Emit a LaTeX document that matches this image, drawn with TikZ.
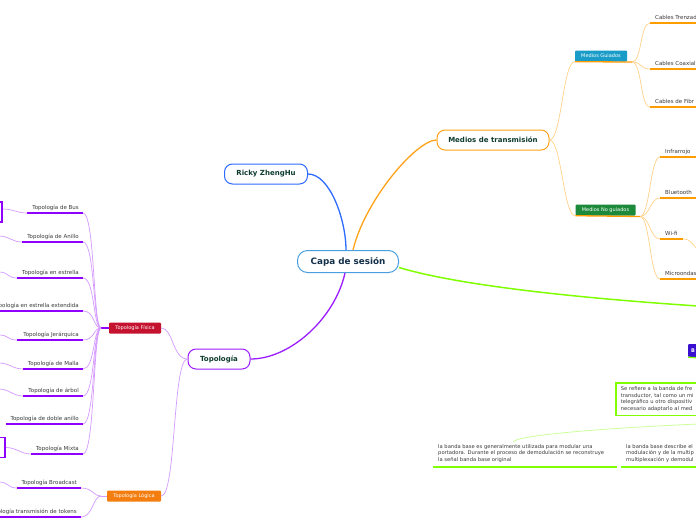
\documentclass[tikz,border=0pt]{standalone}
\usepackage{fontspec}
\setmainfont{DejaVu Sans}
\definecolor{cblue}{HTML}{2E6BFF}
\definecolor{clblue}{HTML}{4A9FE0}
\definecolor{corange}{HTML}{FFA31A}
\definecolor{clorange}{HTML}{FFD28A}
\definecolor{culorange}{HTML}{FF9C00}
\definecolor{cpurple}{HTML}{9B1CFF}
\definecolor{clpurple}{HTML}{D59AFF}
\definecolor{culpurple}{HTML}{8F00FF}
\definecolor{cgreen}{HTML}{80FF00}
\definecolor{clgreen}{HTML}{CCFF99}
\definecolor{ctext}{HTML}{0E3B2E}
\definecolor{cnavy}{HTML}{14304A}
\definecolor{cgray}{HTML}{3A3A3A}
\definecolor{cfis}{HTML}{C4122F}
\definecolor{clog}{HTML}{F47D0F}
\definecolor{cgui}{HTML}{1A9CC8}
\definecolor{cnog}{HTML}{1C8A3A}
\definecolor{cbb}{HTML}{3A10D0}
\tikzset{
  mainbox/.style={draw, rounded corners=8pt, line width=1pt, fill=white, text=ctext,
    font=\bfseries\fontsize{7}{8}\selectfont, minimum height=20pt, inner sep=0pt},
  tagbox/.style={rounded corners=1pt, text=white, font=\fontsize{5}{6}\selectfont,
    minimum height=11pt, inner sep=0pt},
  leaf/.style={text=cgray, font=\fontsize{5.5}{6.6}\selectfont, inner sep=0pt},
  para/.style={text=cgray, font=\fontsize{5.2}{6.6}\selectfont, inner sep=0pt, align=left},
  mainconn/.style={line width=1.3pt},
  subpurple/.style={draw=clpurple, line width=0.7pt},
  suborange/.style={draw=clorange, line width=0.7pt},
  subgreen/.style={draw=clgreen, line width=0.8pt},
  ulpurple/.style={draw=culpurple, line width=1.3pt},
  ulorange/.style={draw=culorange, line width=1.3pt},
  ulgreen/.style={draw=cgreen, line width=1.3pt},
  edgebox/.style={draw=culpurple, line width=1.6pt, minimum width=20pt, minimum height=20pt,
    anchor=east, inner sep=0pt},
}
\newcommand{\lleaf}[5]{%
  \coordinate (#1L) at (#4,#3);
  \coordinate (#1R) at (83,#3);
  \node[leaf, anchor=base east] (#1) at (79,#3-3.5) {#2};
  \draw[ulpurple] (#1L) -- (#1R);
  \draw[subpurple] (#1R) .. controls +(12,0) and +(-8,0) .. (#5);
}
\newcommand{\oleaf}[5]{%
  \coordinate (#1L) at (#4,#3);
  \coordinate (#1R) at (700,#3);
  \node[leaf, anchor=base west] (#1) at (#4+5,#3-3.5) {#2};
  \draw[ulorange] (#1L) -- (#1R);
  \draw[suborange] (#5) .. controls +(10,0) and +(-10,0) .. (#1L);
}
\begin{document}
\begin{tikzpicture}[x=1pt,y=-1pt]
\clip (0,0) rectangle (696,520);
\fill[white] (0,0) rectangle (696,520);

% main nodes
\node[mainbox, draw=clblue, minimum width=101pt, minimum height=22pt, rounded corners=10pt,
  font=\bfseries\fontsize{8.8}{10}\selectfont, text=cnavy] (capa) at (348,261.5) {Capa de sesión};
\node[mainbox, draw=cblue, minimum width=83pt] (ricky) at (266,174) {Ricky ZhengHu};
\node[mainbox, draw=corange, minimum width=112pt] (medios) at (493,140) {Medios de transmisión};
\node[mainbox, draw=cpurple, minimum width=62pt] (topo) at (219,359) {Topología};

% main connectors
\coordinate (gEnd) at (698,306);
\draw[mainconn, cblue] (ricky.east) .. controls +(22,0) and +(0,-30) .. ([xshift=-2pt]capa.north);
\draw[mainconn, corange] ([xshift=5pt]capa.north) .. controls +(12,-50) and +(-20,0) .. (medios.west);
\draw[mainconn, cpurple] ([xshift=-3pt]capa.south) .. controls +(-10,45) and +(40,0) .. (topo.east);
\draw[mainconn, cgreen, line width=1.5pt] ([yshift=-6pt]capa.east) .. controls +(60,18) and +(-120,-8) .. (gEnd);

% medios de transmision branch
\node[tagbox, fill=cgui, minimum width=52pt] (gui) at (601,56) {Medios Guiados};
\node[tagbox, fill=cnog, minimum width=60pt] (nog) at (605.5,210) {Medios No guiados};
\coordinate (guiR) at (632,62);
\coordinate (nogR) at (640,216.5);
\draw[ulorange] (gui.south west) -- (guiR);
\draw[ulorange] (nog.south west) -- (nogR);
\draw[suborange] (medios.east) .. controls +(12,0) and +(-12,0) .. (gui.south west);
\draw[suborange] (medios.east) .. controls +(12,0) and +(-12,0) .. (nog.south west);

\oleaf{tre}{Cables Trenzad}{23}{650}{guiR}
\oleaf{coa}{Cables Coaxial}{69}{650}{guiR}
\oleaf{fib}{Cables de Fibr}{107}{650}{guiR}

\oleaf{inf}{Infrarrojo}{157}{660}{nogR}
\oleaf{blu}{Bluetooth}{198}{660}{nogR}
\oleaf{mic}{Microondas}{279}{660}{nogR}
\coordinate (wifiL) at (660,239);
\coordinate (wifiR) at (683,239);
\coordinate (wifiE) at (698,250);
\node[leaf, anchor=base west] (wifi) at (665,235.5) {Wi-fi};
\draw[ulorange] (wifiL) -- (wifiR);
\draw[suborange] (nogR) .. controls +(10,0) and +(-10,0) .. (wifiL);
\draw[suborange] (wifiR) .. controls +(8,0) and +(-6,-6) .. (wifiE);

% topologia branch
\node[tagbox, fill=cfis, minimum width=52pt] (fis) at (135,328) {Topología Física};
\node[tagbox, fill=clog, minimum width=54pt] (log) at (134,496) {Topología Lógica};
\coordinate (fisJ) at (101,328);
\coordinate (logJ) at (101,496);
\draw[culpurple, line width=1.3pt] (fisJ) -- (fis.west);
\draw[clpurple, line width=0.7pt] (logJ) -- (log.west);
\draw[subpurple] (topo.west) .. controls +(-15,0) and +(12,0) .. (fis.east);
\draw[subpurple] (topo.west) .. controls +(-15,0) and +(15,0) .. (log.east);

\lleaf{bus}{Topología de Bus}{213}{27}{fisJ}
\lleaf{ani}{Topología de Anillo}{242}{22}{fisJ}
\lleaf{est}{Topología en estrella}{278}{17}{fisJ}
\lleaf{ext}{Topología en estrella extendida}{311}{-2}{fisJ}
\lleaf{jer}{Topología Jerárquica}{340}{17}{fisJ}
\lleaf{mal}{Topología de Malla}{369}{23}{fisJ}
\lleaf{arb}{Topología de árbol}{396}{23}{fisJ}
\lleaf{dob}{Topología de doble anillo}{424}{6}{fisJ}
\lleaf{mix}{Topología Mixta}{454}{31}{fisJ}

\coordinate (broL) at (17,488);
\coordinate (broR) at (81,488);
\node[leaf, anchor=base east] (bro) at (77,484.5) {Topología Broadcast};
\draw[ulpurple] (broL) -- (broR);
\draw[subpurple] (broR) .. controls +(12,0) and +(-8,0) .. (logJ);
\coordinate (tokL) at (-2,517);
\coordinate (tokR) at (81,517);
\node[leaf, anchor=base east] (tok) at (77,513.5) {Topología transmisión de tokens};
\draw[ulpurple] (tokL) -- (tokR);
\draw[subpurple] (tokR) .. controls +(12,0) and +(-8,0) .. (logJ);

% left edge boxes and connectors
\node[edgebox] (busbox) at (3,212) {};
\node[edgebox] (mixbox) at (6,447.5) {};
\draw[subpurple] (busL) .. controls +(-10,0) and +(10,0) .. ([yshift=3pt]busbox.east);
\draw[subpurple] (mixL) .. controls +(-10,0) and +(10,0) .. (mixbox.east);
\coordinate (aniE) at (-1,236);
\coordinate (estE) at (-1,272);
\coordinate (jerE) at (-1,335);
\coordinate (malE) at (-1,363);
\coordinate (arbE) at (-1,389);
\coordinate (broE) at (-1,482);
\draw[subpurple] (aniL) .. controls +(-10,0) and +(10,0) .. (aniE);
\draw[subpurple] (estL) .. controls +(-10,0) and +(10,0) .. (estE);
\draw[subpurple] (jerL) .. controls +(-10,0) and +(10,0) .. (jerE);
\draw[subpurple] (malL) .. controls +(-10,0) and +(10,0) .. (malE);
\draw[subpurple] (arbL) .. controls +(-10,0) and +(10,0) .. (arbE);
\draw[subpurple] (broL) .. controls +(-10,0) and +(10,0) .. (broE);

% green branch (right, partly outside)
\node[fill=cbb, text=white, font=\bfseries\fontsize{5}{6}\selectfont, anchor=west,
  minimum height=13pt, inner xsep=3pt, inner ysep=0pt, rounded corners=1pt] (bb) at (688,350.5) {B};
\coordinate (bbR) at (700,358);
\draw[ulgreen] (bb.south west) -- (bbR);

\node[para, draw=cgreen, line width=1.6pt, anchor=north west, inner xsep=5pt, inner ysep=4pt,
  text width=90pt] (gbox) at (615,382)
  {Se refiere a la banda de fre\\transductor, tal como un mi\\telegráfico u otro dispositiv\\necesario adaptarlo al med};

\node[para, anchor=north west] (bl) at (438,444)
  {la banda base es generalmente utilizada para modular una\\portadora. Durante el proceso de demodulación se reconstruye\\la señal banda base original};
\node[para, anchor=north west] (br) at (626,444)
  {la banda base describe el\\modulación y de la multip\\multiplexación y demodul};
\coordinate (blL) at (433,467);
\coordinate (blR) at (617,467);
\coordinate (brL) at (621,467);
\coordinate (brR) at (700,467);
\draw[ulgreen] (blL) -- (blR);
\draw[ulgreen] (brL) -- (brR);
\coordinate (bE) at (698,424);
\draw[subgreen] ([xshift=-8pt,yshift=2pt]bl.north) .. controls +(3,-7) and +(-90,4) .. (bE);
\end{tikzpicture}
\end{document}
